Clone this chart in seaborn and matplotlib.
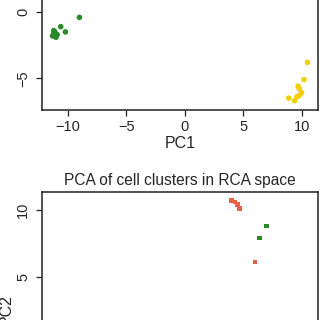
import matplotlib
matplotlib.use("Agg")
import matplotlib.pyplot as plt
import numpy as np
import pandas as pd
import seaborn as sns

# top panel: PCA of cells (PC1 / PC2)
top_pc1 = [-9.0, -10.6, -10.2, -11.1, -11.3, -11.2, -11.0, -10.9, -11.2,
           10.5, 10.2, 9.7, 9.8, 10.0, 8.9, 9.4, 9.6, 9.8]
top_pc2 = [-0.4, -1.1, -1.5, -1.5, -1.8, -1.4, -1.9, -1.7, -1.6,
           -3.8, -5.1, -5.6, -5.8, -6.1, -6.5, -6.7, -6.4, -6.3]
top_group = ["A"] * 9 + ["B"] * 9

# bottom panel: PCA of cell clusters in RCA space
bot_pc1 = [4.0, 4.3, 4.5, 4.7, 7.0, 6.4, 6.0]
bot_pc2 = [10.7, 10.6, 10.4, 10.1, 8.8, 7.9, 6.1]
bot_group = ["R", "R", "R", "R", "G", "G", "R"]

top_df = pd.DataFrame({"PC1": top_pc1, "PC2": top_pc2, "grp": top_group})
bot_df = pd.DataFrame({"PC1": bot_pc1, "PC2": bot_pc2, "grp": bot_group})

sns.set_style("ticks")
plt.rcParams["font.family"] = ["Liberation Sans", "DejaVu Sans"]

fig = plt.figure(figsize=(3.2, 3.2), dpi=100)

# positions in figure fraction, the figure is a crop of a larger one
ax1 = fig.add_axes([42 / 320, 210 / 320, 276 / 320, 170 / 320])
ax2 = fig.add_axes([42 / 320, -108 / 320, 276 / 320, 236 / 320])

sns.scatterplot(data=top_df, x="PC1", y="PC2", hue="grp", ax=ax1,
                palette={"A": "#2a8a2a", "B": "#f2d000"},
                s=16, linewidth=0, legend=False)
sns.scatterplot(data=bot_df, x="PC1", y="PC2", hue="grp", ax=ax2,
                palette={"R": "#e8604c", "G": "#2a8a2a"},
                marker="s", s=10, linewidth=0, legend=False)

ax1.set_xlim(-12.2, 11.4)
ax1.set_ylim(-7.4, 5.45)
ax1.set_xticks([-10, -5, 0, 5, 10])
ax1.set_xticklabels(["\u221210", "\u22125", "0", "5", "10"])
ax1.set_yticks([-5, 0])
ax1.set_yticklabels(["\u22125", "0"])
ax1.set_xlabel("PC1", fontsize=11.5, labelpad=1)
ax1.set_ylabel("")

ax2.set_xlim(-12.2, 11.4)
ax2.set_ylim(-6.3, 11.34)
ax2.set_yticks([5, 10])
ax2.set_xticks([])
ax2.set_xlabel("")
ax2.set_ylabel("PC2", fontsize=11.5, labelpad=2)
ax2.set_title("PCA of cell clusters in RCA space", fontsize=11.2, pad=5)

for ax in (ax1, ax2):
    for sp in ax.spines.values():
        sp.set_visible(True)
        sp.set_color("#222222")
        sp.set_linewidth(1.1)
    ax.tick_params(direction="out", length=4.5, width=0.9, color="#222222",
                   labelsize=10.5, pad=3)
    ax.tick_params(axis="y", pad=4)
    for lab in ax.get_yticklabels():
        lab.set_rotation(90)
        lab.set_va("center")

fig.savefig("out.png", dpi=100)
